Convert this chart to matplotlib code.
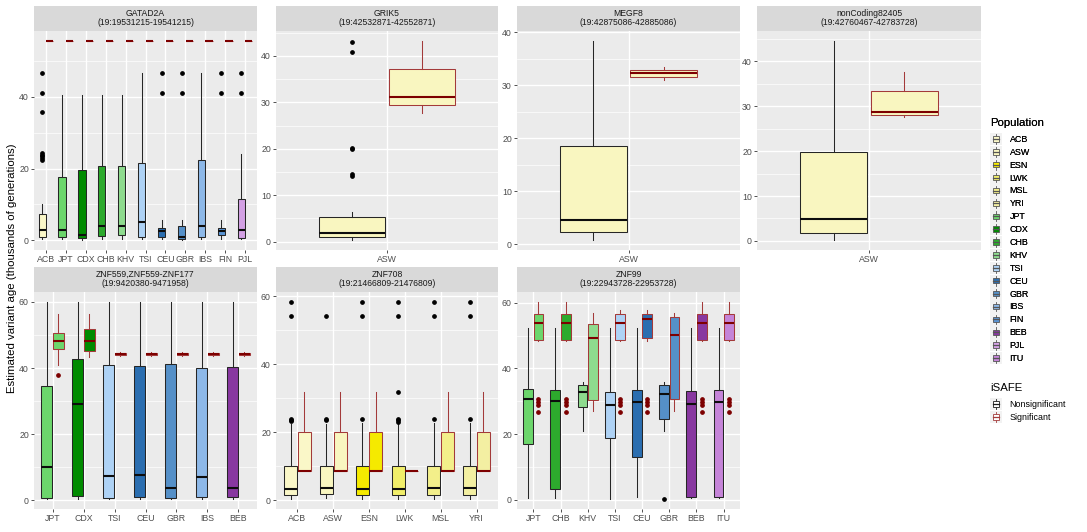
import matplotlib
matplotlib.use('Agg')
import matplotlib.pyplot as plt
from matplotlib.patches import Rectangle, Patch
from matplotlib.lines import Line2D
from matplotlib.legend_handler import HandlerBase
from matplotlib.ticker import MultipleLocator, NullFormatter

plt.rcParams['font.family'] = ['Liberation Sans', 'DejaVu Sans']

W, H = 1087, 532

# ---------------- data ----------------
POPS = ['ACB', 'ASW', 'ESN', 'LWK', 'MSL', 'YRI', 'JPT', 'CDX', 'CHB', 'KHV',
        'TSI', 'CEU', 'GBR', 'IBS', 'FIN', 'BEB', 'PJL', 'ITU']
POP_COLORS = ['#FAF7C8', '#F9F6C0', '#F5EA00', '#F1EE6A', '#F3EF8A', '#F3EFA2',
              '#6CD66C', '#008B00', '#2DAA2D', '#8EDB8E',
              '#AED2F5', '#2B6EB0', '#5590C8', '#8DB8E8', '#5A95D5',
              '#8838A0', '#D3A0E4', '#C584D8']

# stats tuples: (whisker_low, q1, median, q3, whisker_high)
gatad2a_pops = ['ACB', 'JPT', 'CDX', 'CHB', 'KHV', 'TSI', 'CEU', 'GBR', 'IBS', 'FIN', 'PJL']
gatad2a_ns = [(0.3, 0.9, 2.8, 7.4, 10.2), (0.3, 0.9, 3.0, 17.7, 40.5), (0.1, 0.7, 1.6, 19.7, 40.5),
              (0.3, 1.1, 4.0, 20.6, 40.5), (0.5, 1.4, 4.0, 20.6, 40.5), (0.3, 0.9, 5.1, 21.6, 46.5),
              (0.3, 0.9, 2.6, 3.4, 5.8), (0.2, 0.5, 0.9, 4.1, 5.8), (0.3, 0.9, 4.0, 22.3, 46.5),
              (0.3, 1.4, 2.5, 3.4, 5.8), (0.3, 0.7, 3.0, 11.5, 24.0)]
gatad2a_ns_out = [[22.3, 22.8, 23.4, 23.8, 24.2, 35.6, 40.9, 46.5], [], [], [], [], [],
                  [40.9, 46.5], [40.9, 46.5], [], [40.9, 46.5], [40.9, 46.5]]
gatad2a_sig = [(55.5, 55.5, 55.5, 55.5, 55.5)] * 11
gatad2a_sig_out = [[]] * 11

grik5_pops = ['ASW']
grik5_ns = [(0.36, 1.1, 1.95, 5.3, 6.3)]
grik5_ns_out = [[14.1, 14.6, 19.9, 20.2, 40.8, 43.0]]
grik5_sig = [(27.8, 29.4, 31.1, 37.1, 43.2)]
grik5_sig_out = [[]]

megf8_pops = ['ASW']
megf8_ns = [(0.8, 2.3, 4.5, 18.6, 38.4)]
megf8_ns_out = [[]]
megf8_sig = [(31.0, 31.6, 32.3, 32.9, 33.5)]
megf8_sig_out = [[]]

nc_pops = ['ASW']
nc_ns = [(0.2, 1.7, 4.9, 19.8, 44.5)]
nc_ns_out = [[]]
nc_sig = [(27.5, 28.1, 28.8, 33.3, 37.6)]
nc_sig_out = [[]]

znf559_pops = ['JPT', 'CDX', 'TSI', 'CEU', 'GBR', 'IBS', 'BEB']
znf559_ns = [(0.4, 0.7, 10.0, 34.7, 60.0), (0.4, 1.2, 29.1, 42.6, 60.0), (0.4, 0.7, 7.3, 40.8, 60.0),
             (0.4, 0.9, 7.8, 40.5, 60.0), (0.4, 0.7, 3.8, 41.3, 60.0), (0.4, 0.9, 7.0, 40.0, 60.0),
             (0.4, 0.9, 3.8, 40.3, 60.0)]
znf559_ns_out = [[]] * 7
znf559_sig = [(41.0, 45.8, 48.3, 50.6, 56.2), (43.3, 45.1, 48.1, 51.8, 56.2)] + \
             [(43.6, 43.9, 44.2, 44.5, 45.0)] * 5
znf559_sig_out = [[38.0], [], [], [], [], [], []]

znf708_pops = ['ACB', 'ASW', 'ESN', 'LWK', 'MSL', 'YRI']
znf708_ns = [(0.4, 1.5, 3.3, 10.2, 22.4), (0.6, 2.0, 3.6, 10.2, 22.4), (0.4, 1.5, 3.4, 10.2, 22.9),
             (0.4, 1.5, 3.3, 10.2, 22.4), (0.4, 1.5, 3.6, 10.2, 22.9), (0.4, 1.5, 3.8, 10.2, 22.9)]
znf708_ns_out = [[23.4, 23.8, 24.1, 54.2, 58.4], [23.6, 24.1, 54.2], [24.1, 54.2, 58.4],
                 [23.2, 23.7, 24.1, 32.0, 54.2, 58.4], [24.1, 54.2, 58.4], [24.1, 54.2, 58.4]]
znf708_sig = [(8.8, 8.8, 8.8, 20.2, 32.0)] * 3 + [(8.8, 8.8, 8.8, 8.8, 8.8)] + \
             [(8.8, 8.8, 8.8, 20.2, 32.0)] * 2
znf708_sig_out = [[]] * 6

znf99_pops = ['JPT', 'CHB', 'KHV', 'TSI', 'CEU', 'GBR', 'BEB', 'ITU']
znf99_ns = [(0.4, 16.9, 30.7, 33.7, 52.2), (0.4, 3.4, 30.2, 33.5, 52.2), (20.9, 28.2, 32.8, 35.1, 35.9),
            (0.2, 18.8, 28.8, 32.9, 52.2), (0.9, 13.0, 29.8, 33.4, 52.2), (20.9, 24.7, 32.3, 34.9, 35.9),
            (0.4, 0.9, 29.2, 33.0, 52.2), (0.4, 0.9, 29.7, 33.3, 52.2)]
znf99_ns_out = [[], [], [], [], [], [0.3], [], []]
znf99_sig = [(48.4, 48.7, 53.9, 56.6, 60.3), (48.4, 48.7, 53.9, 56.6, 60.3), (27.0, 30.4, 49.3, 53.7, 57.0),
             (48.4, 48.7, 53.9, 56.5, 57.8), (48.4, 49.3, 55.0, 56.6, 57.8), (27.0, 30.6, 50.3, 55.8, 57.0),
             (48.4, 48.7, 53.9, 56.6, 60.3), (48.4, 48.7, 53.9, 56.6, 60.3)]
red_out = [26.8, 28.8, 29.7, 30.7]
znf99_sig_out = [red_out, red_out, [], red_out, red_out, [], red_out, red_out]

# ---------------- style ----------------
NS_EDGE = '#262626'
NS_MED = '#0D0D0D'
SIG_EDGE = '#A33A3A'
SIG_MED = '#7D0000'
PANEL_BG = '#EBEBEB'
STRIP_BG = '#D9D9D9'
TICK_C = '#4D4D4D'
FS_TICK = 6.3
FS_STRIP = 6.2

fig = plt.figure(figsize=(W / 100, H / 100), dpi=100)


def px_axes(x0, y0, x1, y1):
    return fig.add_axes([x0 / W, 1 - y1 / H, (x1 - x0) / W, (y1 - y0) / H])


def stats_of(t, fl, label):
    return dict(whislo=t[0], q1=t[1], med=t[2], q3=t[3], whishi=t[4], fliers=fl, label=label)


def draw_group(ax, pops, stats, outs, offset, edge, med, flier_c):
    n = len(pops)
    st = [stats_of(stats[i], outs[i], pops[i]) for i in range(n)]
    pos = [i + 1 + offset for i in range(n)]
    bp = ax.bxp(st, positions=pos, widths=0.36, patch_artist=True, showcaps=False,
                manage_ticks=False,
                boxprops=dict(edgecolor=edge, linewidth=0.75),
                medianprops=dict(color=med, linewidth=1.5, solid_capstyle='butt'),
                whiskerprops=dict(color=edge, linewidth=0.75),
                flierprops=dict(marker='o', markersize=2.4, markerfacecolor=flier_c,
                                markeredgecolor=flier_c, linestyle='none'))
    for patch, p in zip(bp['boxes'], pops):
        patch.set_facecolor(POP_COLORS[POPS.index(p)])
        patch.set_zorder(2)


def panel(box, title, pops, ns, ns_out, sig, sig_out, ystep):
    x0, y0, x1, y1 = box
    ax = px_axes(x0, y0, x1, y1)
    sax = px_axes(x0, y0 - 25.5, x1, y0)
    sax.set_facecolor(STRIP_BG)
    sax.set_xticks([]); sax.set_yticks([])
    for s in sax.spines.values():
        s.set_visible(False)
    sax.text(0.5, 0.5, title, ha='center', va='center', fontsize=FS_STRIP,
             color='#1A1A1A', transform=sax.transAxes, linespacing=1.05)

    ax.set_facecolor(PANEL_BG)
    for s in ax.spines.values():
        s.set_visible(False)
    draw_group(ax, pops, ns, ns_out, -0.19, NS_EDGE, NS_MED, 'black')
    draw_group(ax, pops, sig, sig_out, 0.19, SIG_EDGE, SIG_MED, SIG_MED)

    vals = [v for t in ns + sig for v in t] + [v for o in ns_out + sig_out for v in o]
    lo, hi = min(vals), max(vals)
    pad = 0.05 * (hi - lo)
    ax.set_ylim(lo - pad, hi + pad)
    ax.set_xlim(0.4, len(pops) + 0.6)
    ax.set_xticks(range(1, len(pops) + 1))
    ax.set_xticklabels(pops)
    ax.yaxis.set_major_locator(MultipleLocator(ystep))
    ax.yaxis.set_minor_locator(MultipleLocator(ystep / 2))
    ax.yaxis.set_minor_formatter(NullFormatter())
    ax.set_axisbelow(True)
    ax.grid(which='major', color='white', linewidth=1.0)
    ax.grid(which='minor', axis='y', color='white', linewidth=0.5)
    ax.tick_params(which='major', length=2.2, width=0.6, color='#333333',
                   labelsize=FS_TICK, labelcolor=TICK_C, pad=1.5)
    ax.tick_params(which='minor', length=0)
    return ax


COLS = [(34, 257), (276, 498), (517, 740), (757, 981)]
ROW1 = (31, 250)
ROW2 = (292, 509)

panel((COLS[0][0], ROW1[0], COLS[0][1], ROW1[1]), 'GATAD2A\n(19:19531215-19541215)',
      gatad2a_pops, gatad2a_ns, gatad2a_ns_out, gatad2a_sig, gatad2a_sig_out, 20)
panel((COLS[1][0], ROW1[0], COLS[1][1], ROW1[1]), 'GRIK5\n(19:42532871-42552871)',
      grik5_pops, grik5_ns, grik5_ns_out, grik5_sig, grik5_sig_out, 10)
panel((COLS[2][0], ROW1[0], COLS[2][1], ROW1[1]), 'MEGF8\n(19:42875086-42885086)',
      megf8_pops, megf8_ns, megf8_ns_out, megf8_sig, megf8_sig_out, 10)
panel((COLS[3][0], ROW1[0], COLS[3][1], ROW1[1]), 'nonCoding82405\n(19:42760467-42783728)',
      nc_pops, nc_ns, nc_ns_out, nc_sig, nc_sig_out, 10)
panel((COLS[0][0], ROW2[0], COLS[0][1], ROW2[1]), 'ZNF559,ZNF559-ZNF177\n(19:9420380-9471958)',
      znf559_pops, znf559_ns, znf559_ns_out, znf559_sig, znf559_sig_out, 20)
panel((COLS[1][0], ROW2[0], COLS[1][1], ROW2[1]), 'ZNF708\n(19:21466809-21476809)',
      znf708_pops, znf708_ns, znf708_ns_out, znf708_sig, znf708_sig_out, 20)
panel((COLS[2][0], ROW2[0], COLS[2][1], ROW2[1]), 'ZNF99\n(19:22943728-22953728)',
      znf99_pops, znf99_ns, znf99_ns_out, znf99_sig, znf99_sig_out, 20)

fig.text(12 / W, 1 - 268 / H, 'Estimated variant age (thousands of generations)',
         rotation=90, ha='center', va='center', fontsize=8.2, color='black')


# ---------------- legends ----------------
class BoxKey(HandlerBase):
    def create_artists(self, legend, orig, xd, yd, width, height, fontsize, trans):
        x0, y0 = -xd, -yd
        face = orig.get_facecolor()
        edge = orig.get_edgecolor()
        bg = Rectangle((x0, y0 - 1), width, height + 2, facecolor='#F2F2F2', edgecolor='none',
                       transform=trans)
        cx = x0 + width / 2
        bw = width * 0.55
        wl = Line2D([cx, cx], [y0 + height * 0.0, y0 + height * 1.0], color=edge,
                    linewidth=0.6, transform=trans)
        bx = Rectangle((cx - bw / 2, y0 + height * 0.22), bw, height * 0.56, facecolor=face,
                       edgecolor=edge, linewidth=0.6, transform=trans)
        md = Line2D([cx - bw / 2, cx + bw / 2], [y0 + height / 2] * 2, color=edge,
                    linewidth=0.9, transform=trans)
        return [bg, wl, bx, md]


LEG_KW = dict(handler_map={Patch: BoxKey()}, loc='upper left', frameon=False,
              title_fontsize=8.2, fontsize=6.4, handlelength=1.3, handleheight=1.3,
              labelspacing=0.345, handletextpad=0.9, borderpad=0, borderaxespad=0,
              alignment='left')

pop_handles = [Patch(facecolor=c, edgecolor='#555555') for c in POP_COLORS]
leg1 = fig.legend(pop_handles, POPS, bbox_to_anchor=(990 / W, 1 - 118 / H),
                  title='Population', **LEG_KW)
leg1._legend_box.sep = 4.4
fig.add_artist(leg1)
isafe_handles = [Patch(facecolor='white', edgecolor='#1A1A1A'),
                 Patch(facecolor='white', edgecolor=SIG_EDGE)]
leg2 = fig.legend(isafe_handles, ['Nonsignificant', 'Significant'],
                  bbox_to_anchor=(990 / W, 1 - 383 / H), title='iSAFE', **LEG_KW)
leg2._legend_box.sep = 4.4

fig.savefig('out.png', dpi=100)
